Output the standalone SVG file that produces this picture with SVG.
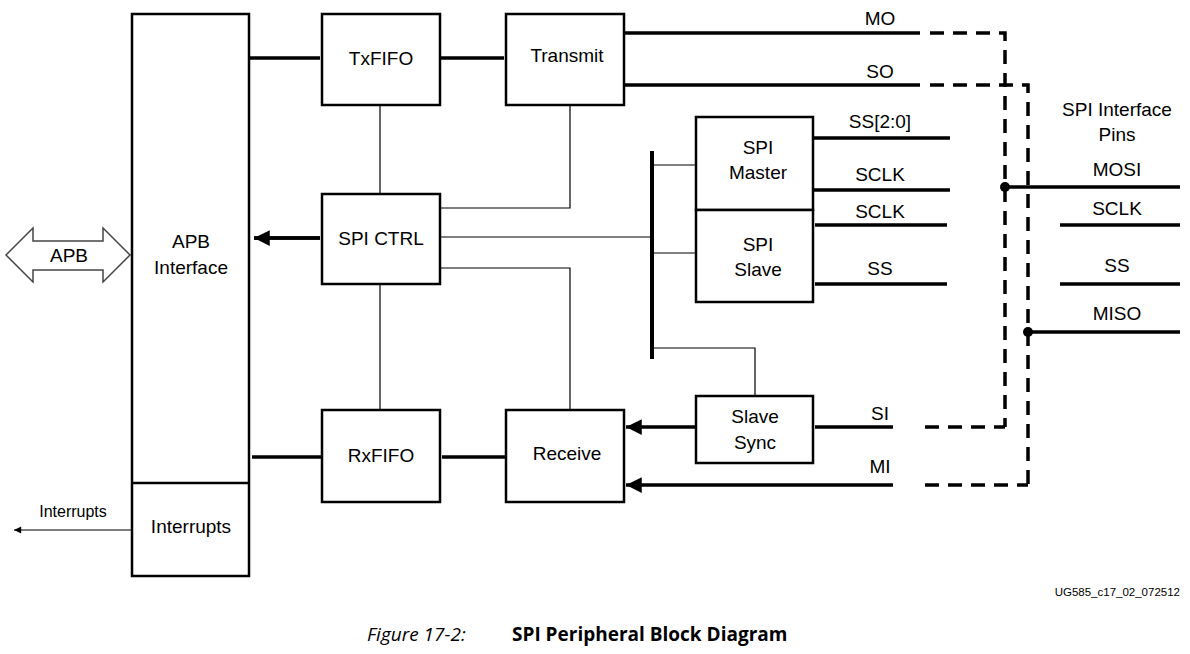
<svg xmlns="http://www.w3.org/2000/svg" width="1190" height="654" viewBox="0 0 1190 654">
<style>
.b{fill:#fff;stroke:#000;stroke-width:2.5}
.t{font-family:"Liberation Sans",Arial,sans-serif;font-size:19px;text-anchor:middle;fill:#000}
.th{stroke:#000;stroke-width:3.5;fill:none}
.tn{stroke:#000;stroke-width:1.2;fill:none}
.ds{stroke:#000;stroke-width:3.5;fill:none;stroke-dasharray:14 9}
</style>
<defs>
<marker id="a" viewBox="0 0 10 10" refX="10" refY="5" markerWidth="6" markerHeight="4.5" orient="auto-start-reverse" markerUnits="strokeWidth"><path d="M0,0L10,5L0,10z"/></marker>
<marker id="s" viewBox="0 0 10 10" refX="10" refY="5" markerWidth="10" markerHeight="6" orient="auto" markerUnits="strokeWidth"><path d="M0,0L10,5L0,10z"/></marker>
</defs>
<rect width="1190" height="654" fill="#fff"/>
<g id="connectors">
<path class="th" d="M249,58H320M440,58H504M254,238H320M322,457H252M506,457H442M696,427H626" marker-end="url(#a)"/>
<path class="th" d="M254,238H320" marker-start="url(#a)"/>
<path class="tn" d="M380,105V194M380,284V410M570,105V208H440M440,268H570V410M440,237H652M652,165H696M652,253H696M652,348H755V396"/>
<path stroke="#000" stroke-width="4" d="M652,151V359"/>
<path class="th" d="M624,33H920M624,85H920M813,138H950M813,190H950M947,225H815M947,284H815M893,427H815M893,485H626" marker-end="url(#a)"/>
<path class="ds" d="M930,33H1005V427M930,85H1028V485M925,427H1005M925,485H1028"/>
<path class="th" d="M1005,187H1180M1060,225H1180M1060,284H1180M1028,332H1180"/>
<circle cx="1005" cy="187" r="5"/><circle cx="1028" cy="332" r="5"/>
<path class="tn" d="M132,530H14" marker-end="url(#s)"/>
<path d="M6,255L33,228V241H103V228L130,255L103,282V270H33V282Z" fill="#fff" stroke="#444" stroke-width="1.5"/>
</g>
<g id="apb"><rect class="b" x="132" y="14" width="117" height="562"/><line x1="132" y1="483" x2="249" y2="483" stroke="#000" stroke-width="2.5"/>
<text class="t" x="191" y="248">APB</text><text class="t" x="191" y="274">Interface</text><text class="t" x="191" y="533">Interrupts</text></g>
<g id="txfifo"><rect class="b" x="322" y="14" width="118" height="91"/><text class="t" x="381" y="65">TxFIFO</text></g>
<g id="transmit"><rect class="b" x="506" y="14" width="118" height="91"/><text class="t" x="567" y="62">Transmit</text></g>
<g id="spictrl"><rect class="b" x="322" y="194" width="118" height="90"/><text class="t" x="381" y="245">SPI CTRL</text></g>
<g id="rxfifo"><rect class="b" x="322" y="410" width="118" height="92"/><text class="t" x="381" y="462">RxFIFO</text></g>
<g id="receive"><rect class="b" x="506" y="410" width="118" height="92"/><text class="t" x="567" y="460">Receive</text></g>
<g id="spimaster"><rect class="b" x="696" y="117" width="117" height="93"/><text class="t" x="758" y="154">SPI</text><text class="t" x="758" y="179">Master</text></g>
<g id="spislave"><rect class="b" x="696" y="210" width="117" height="92"/><text class="t" x="758" y="251">SPI</text><text class="t" x="758" y="276">Slave</text></g>
<g id="slavesync"><rect class="b" x="696" y="396" width="117" height="67"/><text class="t" x="755" y="423">Slave</text><text class="t" x="755" y="449">Sync</text></g>
<g id="labels">
<text class="t" x="69" y="262" font-size="17">APB</text>
<text class="t" x="73" y="517" style="font-size:16px">Interrupts</text>
<text class="t" x="880" y="25">MO</text><text class="t" x="880" y="78">SO</text>
<text class="t" x="880" y="128">SS[2:0]</text><text class="t" x="880" y="181">SCLK</text>
<text class="t" x="880" y="218">SCLK</text><text class="t" x="880" y="275">SS</text>
<text class="t" x="880" y="420">SI</text><text class="t" x="880" y="473">MI</text>
<text class="t" x="1117" y="116">SPI Interface</text><text class="t" x="1117" y="141">Pins</text>
<text class="t" x="1117" y="176">MOSI</text><text class="t" x="1117" y="215">SCLK</text>
<text class="t" x="1117" y="272">SS</text><text class="t" x="1117" y="320">MISO</text>
<text x="1180" y="596" text-anchor="end" font-family="Liberation Sans,Arial,sans-serif" font-size="11.5">UG585_c17_02_072512</text>
<text x="367" y="641" font-family="Open Sans,sans-serif" font-size="19" font-style="italic">Figure 17-2:</text>
<text x="512" y="641" font-family="Open Sans,sans-serif" font-size="19" font-weight="bold">SPI Peripheral Block Diagram</text>
</g>
</svg>
